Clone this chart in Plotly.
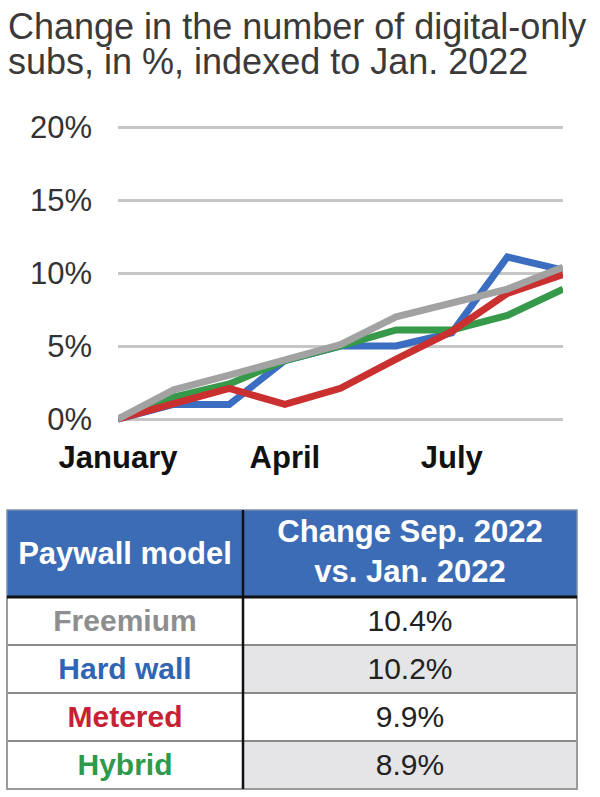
import plotly.graph_objects as go

# ---------------- data ----------------
months = ["January", "February", "March", "April", "May", "June", "July", "August", "September"]
month_ticks = ["January", "April", "July"]

freemium = [0, 2, 3, 4, 5.1, 7, 7.9, 8.9, 10.4]
hard_wall = [0, 1, 1, 4, 5, 5, 5.9, 11.1, 10.2]
metered = [0, 1, 2.1, 1, 2.1, 4.1, 6, 8.6, 9.9]
hybrid = [0, 1.5, 2.4, 4, 5, 6.1, 6.1, 7.1, 8.9]

y_ticks = [0, 5, 10, 15, 20]
y_ticktext = ["0%", "5%", "10%", "15%", "20%"]

models = ["Freemium", "Hard wall", "Metered", "Hybrid"]
changes = [10.4, 10.2, 9.9, 8.9]
table_header = ["Paywall model", "Change Sep. 2022<br>vs. Jan. 2022"]

title_lines = ["Change in the number of digital-only", "subs, in %, indexed to Jan. 2022"]

# ---------------- styles ----------------
W, H = 600, 797
FONT = "Liberation Sans, Arial, Helvetica, sans-serif"
colors = {
    "Freemium": "#a2a2a2",
    "Hard wall": "#3b6ec0",
    "Metered": "#c9302f",
    "Hybrid": "#379a4b",
}
text_colors = {
    "Freemium": "#8e8e8e",
    "Hard wall": "#3065b3",
    "Metered": "#c52334",
    "Hybrid": "#2f9a4a",
}
series = {"Hard wall": hard_wall, "Hybrid": hybrid, "Metered": metered, "Freemium": freemium}

# chart geometry (pixels)
x_left, x_right = 118, 563
y0_px, y20_px = 419, 127
ppu = (y0_px - y20_px) / 20.0
y_lo, y_hi = -0.6, 20.6
dom_bottom = 1 - (y0_px + (0 - y_lo) * ppu) / H
dom_top = 1 - (y20_px - (y_hi - 20) * ppu) / H

fig = go.Figure()

for name, vals in series.items():
    fig.add_trace(go.Scatter(
        x=months, y=vals, mode="lines", name=name,
        line=dict(color=colors[name], width=7),
        xaxis="x", yaxis="y", showlegend=False, hoverinfo="skip",
    ))

# ---------------- table (drawn on pixel-unit overlay axes) ----------------
tx0, tx_mid, tx1 = 7, 243, 577
head_top, head_bot = 510, 597
row_h = 48
row_edges = [head_bot + i * row_h for i in range(len(models) + 1)]
row_centers = [(row_edges[i] + row_edges[i + 1]) / 2 for i in range(len(models))]

shapes = []
shapes.append(dict(type="rect", xref="x2", yref="y2", x0=tx0, x1=tx1, y0=head_top, y1=head_bot,
                   fillcolor="#3c6cb5", line=dict(width=0), layer="below"))
for i in range(len(models)):
    shapes.append(dict(type="rect", xref="x2", yref="y2", x0=tx0, x1=tx_mid,
                       y0=row_edges[i], y1=row_edges[i + 1], fillcolor="white",
                       line=dict(width=0), layer="below"))
    shapes.append(dict(type="rect", xref="x2", yref="y2", x0=tx_mid, x1=tx1,
                       y0=row_edges[i], y1=row_edges[i + 1],
                       fillcolor="#e5e5e7" if i % 2 == 1 else "white",
                       line=dict(width=0), layer="below"))
for e in row_edges[1:-1]:
    shapes.append(dict(type="line", xref="x2", yref="y2", x0=tx0, x1=tx1, y0=e, y1=e,
                       line=dict(color="#8a8a8a", width=2), layer="below"))
shapes.append(dict(type="rect", xref="x2", yref="y2", x0=tx0, x1=tx1, y0=head_bot, y1=row_edges[-1],
                   line=dict(color="#9a9a9a", width=2), fillcolor="rgba(0,0,0,0)", layer="below"))
shapes.append(dict(type="rect", xref="x2", yref="y2", x0=tx0, x1=tx1, y0=head_top, y1=head_bot,
                   line=dict(color="#7d8fa8", width=1.5), fillcolor="rgba(0,0,0,0)", layer="below"))
shapes.append(dict(type="line", xref="x2", yref="y2", x0=tx0, x1=tx1, y0=head_bot, y1=head_bot,
                   line=dict(color="#111111", width=3), layer="below"))
shapes.append(dict(type="line", xref="x2", yref="y2", x0=tx_mid, x1=tx_mid, y0=head_top, y1=row_edges[-1],
                   line=dict(color="#111111", width=2.5), layer="below"))

col1_c = (tx0 + tx_mid) / 2
col2_c = (tx_mid + tx1) / 2

fig.add_trace(go.Scatter(
    x=[col1_c, col2_c], y=[(head_top + head_bot) / 2 + 3, (head_top + head_bot) / 2 + 1],
    text=["<b>%s</b>" % t for t in table_header], mode="text",
    textfont=dict(family=FONT, size=31, color="white"),
    xaxis="x2", yaxis="y2", showlegend=False, hoverinfo="skip", cliponaxis=False,
))
fig.add_trace(go.Scatter(
    x=[col1_c] * len(models), y=[c + 2 for c in row_centers],
    text=["<b>%s</b>" % m for m in models], mode="text",
    textfont=dict(family=FONT, size=30, color=[text_colors[m] for m in models]),
    xaxis="x2", yaxis="y2", showlegend=False, hoverinfo="skip", cliponaxis=False,
))
fig.add_trace(go.Scatter(
    x=[col2_c] * len(models), y=[c + 2 for c in row_centers],
    text=["%.1f%%" % v for v in changes], mode="text",
    textfont=dict(family=FONT, size=30, color="#222222"),
    xaxis="x2", yaxis="y2", showlegend=False, hoverinfo="skip", cliponaxis=False,
))

# ---------------- title ----------------
annotations = []
title_tops = [4, 39]
for i, line in enumerate(title_lines):
    annotations.append(dict(
        text=line, xref="paper", yref="paper", x=6 / W, y=1 - title_tops[i] / H,
        xanchor="left", yanchor="top", showarrow=False, align="left",
        font=dict(family=FONT, size=36, color="#3a3a3a"),
    ))

fig.update_layout(
    width=W, height=H,
    margin=dict(l=0, r=0, t=0, b=0, autoexpand=False),
    paper_bgcolor="white", plot_bgcolor="rgba(0,0,0,0)",
    showlegend=False,
    shapes=shapes,
    annotations=annotations,
    xaxis=dict(
        domain=[x_left / W, x_right / W], type="category",
        categoryorder="array", categoryarray=months,
        range=[0, len(months) - 1], automargin=False,
        tickvals=month_ticks, ticktext=month_ticks,
        showgrid=False, zeroline=False, showline=False, ticks="",
        tickfont=dict(family=FONT, size=31, color="#111111", weight="bold"),
        ticklabelstandoff=8, fixedrange=True,
    ),
    yaxis=dict(
        domain=[dom_bottom, dom_top], range=[y_lo, y_hi], automargin=False,
        tickvals=y_ticks, ticktext=y_ticktext,
        showgrid=True, gridcolor="#c6c6c6", gridwidth=2.5,
        zeroline=False, showline=False, ticks="",
        tickfont=dict(family=FONT, size=31, color="#333333"),
        ticklabelstandoff=25, fixedrange=True,
    ),
    xaxis2=dict(domain=[0, 1], range=[0, W], visible=False, fixedrange=True, automargin=False),
    yaxis2=dict(domain=[0, 1], range=[H, 0], visible=False, fixedrange=True, automargin=False),
)

fig.write_html("out.html")
